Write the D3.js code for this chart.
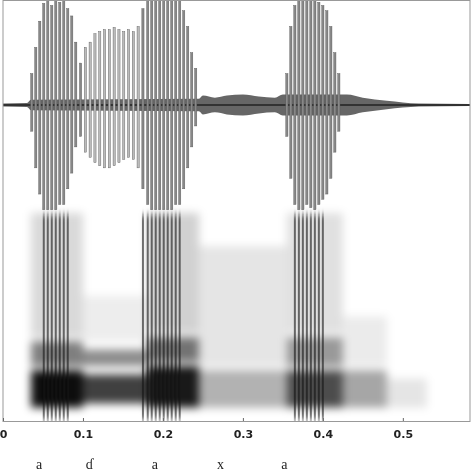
<!DOCTYPE html>
<html><head><meta charset="utf-8">
<script src="https://cdn.jsdelivr.net/npm/d3@7"></script>
<style>body{margin:0;background:#fff}text{font-family:"DejaVu Sans",sans-serif}</style>
</head><body><div id="chart"></div>
<script>
// glottal pulses: time (s), upper amp, lower amp
var pulses = [
  [0.036,0.30,0.25],[0.041,0.55,0.60],[0.046,0.80,0.85],[0.051,0.97,1.0],[0.056,1.0,1.0],[0.061,0.95,1.0],
  [0.066,1.0,1.0],[0.071,0.98,0.95],[0.076,1.0,0.95],[0.081,0.92,0.80],[0.086,0.85,0.65],[0.091,0.60,0.40],
  [0.097,0.40,0.30],[0.103,0.55,0.45],[0.109,0.60,0.50],[0.115,0.68,0.55],[0.121,0.70,0.58],[0.127,0.72,0.60],
  [0.133,0.72,0.60],[0.139,0.74,0.58],[0.145,0.72,0.55],[0.151,0.70,0.52],[0.157,0.72,0.50],[0.163,0.70,0.52],
  [0.169,0.75,0.60],[0.175,0.92,0.80],[0.181,1.0,0.95],[0.186,1.0,1.0],[0.191,1.0,1.0],[0.196,1.0,1.0],
  [0.201,1.0,1.0],[0.206,1.0,1.0],[0.211,1.0,1.0],[0.216,1.0,0.95],[0.221,1.0,0.95],[0.226,0.90,0.80],
  [0.231,0.75,0.60],[0.236,0.50,0.40],[0.241,0.35,0.20],
  [0.355,0.30,0.30],[0.360,0.75,0.70],[0.365,0.95,0.95],[0.370,1.0,1.0],[0.375,1.0,1.0],[0.380,1.0,0.95],
  [0.385,1.0,0.98],[0.390,1.0,1.0],[0.395,0.98,0.95],[0.400,0.95,0.90],[0.405,0.90,0.85],[0.410,0.75,0.70],
  [0.415,0.50,0.45],[0.420,0.30,0.25]
];
// noise envelope: time, amplitude
var noise = [
  [0.0,0.015],[0.030,0.02],[0.035,0.05],[0.245,0.06],[0.250,0.09],[0.265,0.07],[0.280,0.09],[0.300,0.10],
  [0.320,0.08],[0.340,0.07],[0.350,0.10],[0.430,0.10],[0.450,0.07],[0.480,0.04],[0.500,0.025],[0.520,0.015],[0.584,0.01]
];
// spectrogram energy regions: t0, t1, f0 (Hz), f1 (Hz), darkness
var bands = [
  [0.035,0.100,300,1200,0.95],[0.035,0.100,1300,1900,0.5],[0.035,0.100,2000,5000,0.15],
  [0.100,0.180,400,1100,0.75],[0.100,0.180,1300,1700,0.45],[0.100,0.180,1900,3000,0.07],
  [0.180,0.245,300,1300,0.9],[0.180,0.245,1400,2000,0.55],[0.180,0.245,2100,5000,0.18],
  [0.245,0.355,300,1200,0.3],[0.245,0.355,1300,4200,0.1],
  [0.355,0.425,300,1200,0.7],[0.355,0.425,1300,2000,0.4],[0.355,0.425,2100,5000,0.12],
  [0.425,0.480,300,1200,0.35],[0.425,0.480,1300,2500,0.08],[0.480,0.530,300,1000,0.1]
];
var xTicks = [0,0.1,0.2,0.3,0.4,0.5];
var segLabels = [["a",0.045],["ɗ",0.108],["a",0.190],["x",0.272],["a",0.352]];

var W = 474, H = 474;
var x = d3.scaleLinear().domain([0,0.584]).range([3,470]);
var yw = d3.scaleLinear().domain([-1.05,1.05]).range([215,-5]);
var yf = d3.scaleLinear().domain([0,5000]).range([420,213]);

var svg = d3.select("#chart").append("svg").attr("width",W).attr("height",H);
var defs = svg.append("defs");
defs.append("filter").attr("id","bl").append("feGaussianBlur").attr("stdDeviation","4 4");
defs.append("filter").attr("id","bs").append("feGaussianBlur").attr("stdDeviation","0.6 3");
defs.append("clipPath").attr("id","cl").append("rect").attr("x",3).attr("y",0).attr("width",467).attr("height",421);

var g = svg.append("g").attr("clip-path","url(#cl)");

// spectrogram bands
g.append("g").attr("filter","url(#bl)").selectAll("rect").data(bands).enter().append("rect")
  .attr("x",d=>x(d[0])).attr("width",d=>x(d[1])-x(d[0]))
  .attr("y",d=>yf(d[3])).attr("height",d=>yf(d[2])-yf(d[3]))
  .attr("fill","#000").attr("opacity",d=>d[4]);
// striations
g.append("g").attr("filter","url(#bs)").selectAll("rect").data(pulses.filter(p=>p[1]>0.9)).enter().append("rect")
  .attr("x",d=>x(d[0])-1).attr("width",2).attr("y",215).attr("height",205)
  .attr("fill","#111").attr("opacity",0.6);

// waveform noise
var area = d3.area().x(d=>x(d[0])).y0(d=>yw(-d[1])).y1(d=>yw(d[1])).curve(d3.curveMonotoneX);
g.append("path").datum(noise).attr("d",area).attr("fill","#666");
g.append("line").attr("x1",3).attr("x2",470).attr("y1",yw(0)).attr("y2",yw(0)).attr("stroke","#222").attr("stroke-width",1.5);
// pulses
g.append("g").selectAll("rect").data(pulses).enter().append("rect")
  .attr("x",d=>x(d[0])-1.1).attr("width",2.2)
  .attr("y",d=>yw(d[1])).attr("height",d=>yw(-d[2])-yw(d[1]))
  .attr("fill",d=>(d[0]>0.1&&d[0]<0.175)?"#bbb":"#888").attr("stroke","#555").attr("stroke-width",0.4);

// frame
svg.append("rect").attr("x",3).attr("y",0.5).attr("width",467).attr("height",421).attr("fill","none").attr("stroke","#999");

// axis
var ax = svg.append("g").attr("transform","translate(0,421)")
  .call(d3.axisBottom(x).tickValues(xTicks).tickSize(-3).tickFormat(d3.format("")));
ax.select(".domain").remove();
ax.selectAll("text").attr("dy","1.3em").style("font-size","11px").style("font-weight","bold").attr("fill","#222");
ax.selectAll("line").attr("stroke","#666");

svg.append("g").selectAll("text").data(segLabels).enter().append("text")
  .attr("x",d=>x(d[1])).attr("y",469).attr("text-anchor","middle")
  .style("font-family","'Liberation Serif',serif").style("font-size","14px").attr("fill","#222")
  .text(d=>d[0]);
</script></body></html>
